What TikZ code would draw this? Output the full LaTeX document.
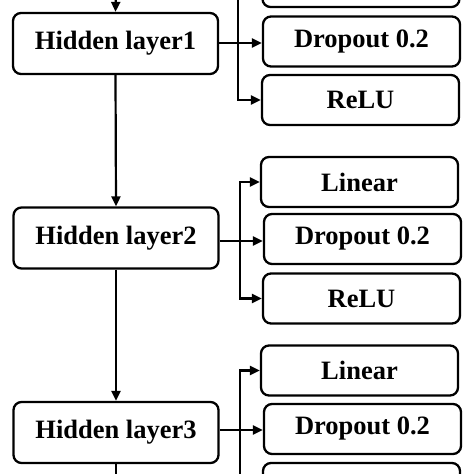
\documentclass[tikz,border=0pt]{standalone}
\usepackage{fontspec}
\setmainfont{Liberation Serif}
\usetikzlibrary{arrows.meta}
\begin{document}
\begin{tikzpicture}[x=1pt,y=-1pt,
  box/.style={draw=black,line width=2.3pt,rounded corners=8pt,fill=white,inner sep=0pt,
    font=\fontsize{26.5}{30}\selectfont\bfseries},
  hid/.style={box,minimum width=205pt,minimum height=61pt},
  op/.style={box,minimum width=197pt,minimum height=50pt},
  conn/.style={line width=2.2pt,-{Triangle[length=10pt,width=9pt]}},
  wire/.style={line width=2.2pt}]
\useasboundingbox (0,0) rectangle (474,474);
\clip (0,0) rectangle (474,474);
% hidden layers
\node[hid] (h1) at (115.5,43.5) {Hidden layer1};
\node[hid] (h2) at (116,238) {Hidden layer2};
\node[hid] (h3) at (116,432.5) {Hidden layer3};
% row 1 (first box only partly visible, its text lies outside)
\node[op] (l1) at (361,-18) {};
\node[op] (d1) at (361.5,41.5) {Dropout 0.2};
\node[op] (r1) at (360.5,100) {ReLU};
% row 2
\node[op] (l2) at (359.5,182) {Linear};
\node[op] (d2) at (362.5,239) {Dropout 0.2};
\node[op] (r2) at (361.5,298.5) {ReLU};
% row 3 (last box only partly visible)
\node[op] (l3) at (359.5,370.5) {Linear};
\node[op] (d3) at (362.5,429) {Dropout 0.2};
\node[op] (r3) at (361.5,488) {};
% vertical chain
\coordinate (top) at (116,-12);
\coordinate (bot) at (116,490);
\draw[conn] (top) -- (h1.north);
\draw[conn] (h1.south) -- (h2.north);
\draw[conn] (h2.south) -- (h3.north);
\draw[wire] (h3.south) -- (bot);
% branches
\coordinate (j1) at (238,43);
\coordinate (j2) at (240,241);
\coordinate (j3) at (240,430);
\draw[conn] (h1.east |- j1) -- (d1.west |- j1);
\draw[conn] (j1) |- (l1.west);
\draw[conn] (j1) |- (r1.west);
\draw[conn] (h2.east |- j2) -- (d2.west |- j2);
\draw[conn] (j2) |- (l2.west);
\draw[conn] (j2) |- (r2.west);
\draw[conn] (h3.east |- j3) -- (d3.west |- j3);
\draw[conn] (j3) |- (l3.west);
\draw[conn] (j3) |- (r3.west);
\end{tikzpicture}
\end{document}
